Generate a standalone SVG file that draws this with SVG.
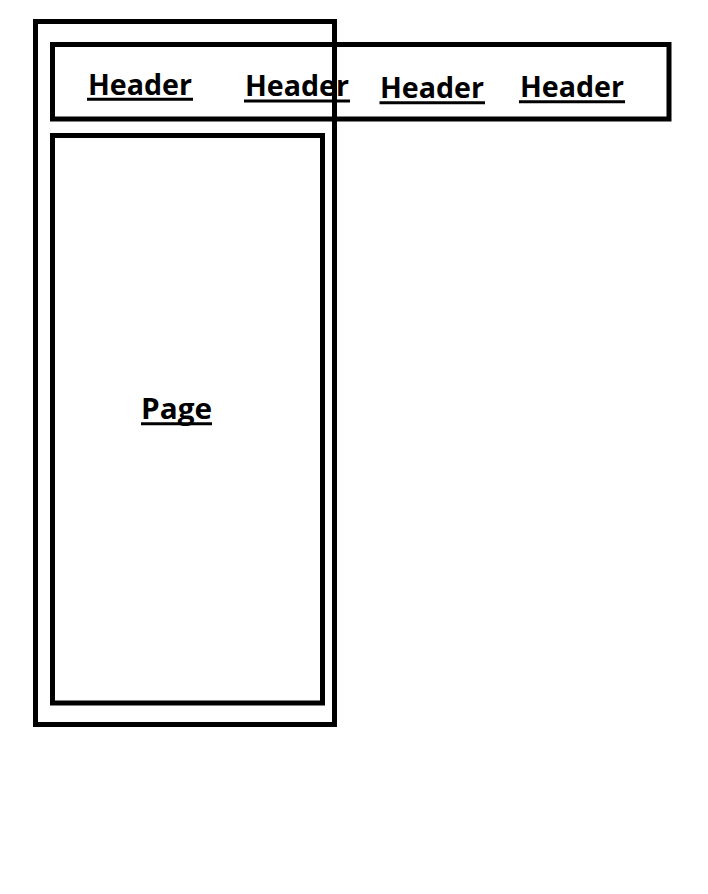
<svg xmlns="http://www.w3.org/2000/svg" width="708" height="894" viewBox="0 0 708 894">
<style>
.box{fill:none;stroke:#000;stroke-width:5}
.t{font-family:"Open Sans","Noto Sans","Liberation Sans",sans-serif;font-weight:bold;font-size:28px;fill:#000}
.u{stroke:#000;stroke-width:3}
</style>
<rect width="708" height="894" fill="#fff"/>
<g id="outer"><rect class="box" x="35.5" y="21.5" width="299" height="703"/></g>
<g id="header-bar"><rect class="box" x="52.5" y="44.5" width="616.5" height="74.5"/></g>
<g id="page"><rect class="box" x="52.5" y="135.5" width="270" height="567.5"/>
<text class="t" x="141" y="419" textLength="71" lengthAdjust="spacingAndGlyphs">Page</text>
<line class="u" x1="141" y1="423.8" x2="212" y2="423.8"/></g>
<g id="header1"><text class="t" x="88" y="94.5" textLength="104" lengthAdjust="spacingAndGlyphs">Header</text>
<line class="u" x1="87" y1="99.3" x2="193" y2="99.3"/></g>
<g id="header2"><text class="t" x="245" y="96" textLength="104" lengthAdjust="spacingAndGlyphs">Header</text>
<line class="u" x1="244" y1="101" x2="350" y2="101"/></g>
<g id="header3"><text class="t" x="380" y="97.5" textLength="104" lengthAdjust="spacingAndGlyphs">Header</text>
<line class="u" x1="379.5" y1="102.7" x2="485" y2="102.7"/></g>
<g id="header4"><text class="t" x="520" y="96.5" textLength="104" lengthAdjust="spacingAndGlyphs">Header</text>
<line class="u" x1="519" y1="101.7" x2="625" y2="101.7"/></g>
<g id="connectors"></g>
</svg>
